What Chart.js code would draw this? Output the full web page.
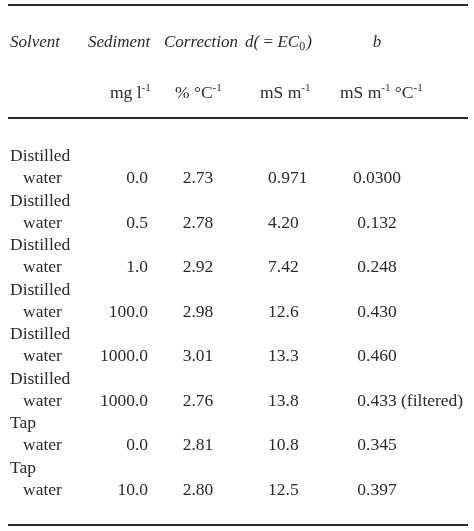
<!DOCTYPE html>
<html><head><meta charset="utf-8">
<script src="https://cdn.jsdelivr.net/npm/chart.js@4"></script>
<style>html,body{margin:0;padding:0;background:#fff}#w{width:474px;height:531px}</style>
</head><body><div id="w"><canvas id="c"></canvas></div>
<script>
const solventTop = ["Distilled","Distilled","Distilled","Distilled","Distilled","Distilled","Tap","Tap"];
const solventBottom = ["water","water","water","water","water","water","water","water"];
const sediment = ["0.0","0.5","1.0","100.0","1000.0","1000.0","0.0","10.0"];
const correction = ["2.73","2.78","2.92","2.98","3.01","2.76","2.81","2.80"];
const dValues = ["0.971","4.20","7.42","12.6","13.3","13.8","10.8","12.5"];
const bValues = ["0.0300","0.132","0.248","0.430","0.460","0.433","0.345","0.397"];
const notes = ["","","","","","(filtered)","",""];
const headers = ["Solvent","Sediment","Correction","d(\u2009=\u2009EC","b"];
const units = ["","mg l","% \u00b0C","mS m","mS m"];

const tablePlugin = {
  id:'table',
  afterDraw(chart){
    const ctx=chart.ctx, X=chart.scales.x, Y=chart.scales.y;
    const px=v=>X.getPixelForValue(v), py=v=>Y.getPixelForValue(v);
    ctx.save();
    ctx.fillStyle='#2a2a2a'; ctx.strokeStyle='#2a2a2a';
    [[5,2],[118,2],[525,2]].forEach(([y,w])=>{ctx.lineWidth=w;ctx.beginPath();ctx.moveTo(px(8),py(y));ctx.lineTo(px(468),py(y));ctx.stroke();});
    const it='italic 17px "Liberation Serif"', rm='17.5px "Liberation Serif"', sm='11px "Liberation Serif"';
    ctx.textBaseline='alphabetic';
    ctx.font=it;
    ctx.textAlign='left';
    ctx.fillText(headers[0],px(10),py(47));
    ctx.fillText(headers[1],px(88),py(47));
    ctx.fillText(headers[2],px(164),py(47));
    ctx.fillText(headers[3],px(245),py(47));
    let w=ctx.measureText(headers[3]).width;
    ctx.font='12px "Liberation Serif"'; ctx.fillText('0',px(245)+w,py(50));
    let w2=ctx.measureText('0').width; ctx.font=it; ctx.fillText(')',px(245)+w+w2+1,py(47));
    ctx.textAlign='center'; ctx.fillText(headers[4],px(377),py(47));
    const unit=(x,parts)=>{let cx=px(x);parts.forEach(([t,sup])=>{ctx.font=sup?sm:rm;ctx.textAlign='left';ctx.fillText(t,cx,py(sup?91:98));cx+=ctx.measureText(t).width;});};
    unit(110,[[units[1],0],['-1',1]]);
    unit(175,[[units[2],0],['-1',1]]);
    unit(260,[[units[3],0],['-1',1]]);
    unit(340,[[units[4],0],['-1',1],[' \u00b0C',0],['-1',1]]);
    ctx.font=rm;
    for(let i=0;i<sediment.length;i++){
      const yb=183+i*44.5;
      ctx.textAlign='left';
      ctx.fillText(solventTop[i],px(10),py(yb-22));
      ctx.fillText(solventBottom[i],px(23),py(yb));
      ctx.textAlign='right'; ctx.fillText(sediment[i],px(148),py(yb));
      ctx.textAlign='center'; ctx.fillText(correction[i],px(198),py(yb));
      ctx.textAlign='left'; ctx.fillText(dValues[i],px(268),py(yb));
      ctx.textAlign='center'; ctx.fillText(bValues[i],px(377),py(yb));
      if(notes[i]){ctx.textAlign='left';ctx.fillText(notes[i],px(401),py(yb));}
    }
    ctx.restore();
  }
};
new Chart(document.getElementById('c'),{
  type:'scatter',
  data:{datasets:[{data:[],pointRadius:0}]},
  options:{responsive:true,maintainAspectRatio:false,animation:false,
    layout:{padding:0},
    plugins:{legend:{display:false},tooltip:{enabled:false}},
    scales:{x:{type:'linear',min:0,max:474,display:false},y:{type:'linear',min:0,max:531,reverse:true,display:false}}},
  plugins:[tablePlugin]
});
</script></body></html>
